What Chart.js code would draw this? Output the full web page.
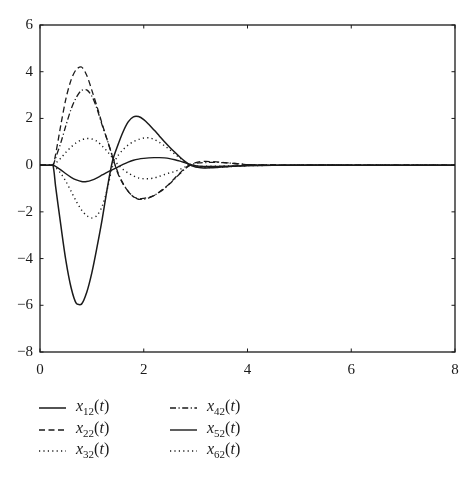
<!DOCTYPE html>
<html>
<head>
<meta charset="utf-8">
<script src="https://cdn.jsdelivr.net/npm/chart.js@4/dist/chart.umd.min.js"></script>
<style>
html,body{margin:0;padding:0;background:#fff;}
#wrap{position:relative;width:474px;height:477px;}
#c{position:absolute;left:0;top:0;}
.leg{position:absolute;font-family:"Liberation Serif","DejaVu Serif",serif;font-style:italic;font-size:16px;color:#1a1a1a;line-height:16px;white-space:nowrap;}
.leg sub{font-size:11px;font-style:normal;vertical-align:-4px;line-height:0;}
.leg .p{font-style:normal;}
.leg svg{position:absolute;left:0;top:0;}
</style>
</head>
<body>
<div id="wrap">
<canvas id="c" width="474" height="477"></canvas>
<div id="legend"></div>
</div>
<script>
// time axis (t)
const tVals = [0,0.1,0.2,0.25,0.3,0.4,0.5,0.6,0.7,0.8,0.9,1.0,1.1,1.2,1.3,1.4,1.5,1.6,1.7,1.8,1.9,2.0,2.1,2.2,2.3,2.4,2.5,2.6,2.7,2.8,2.9,3.0,3.1,3.2,3.3,3.4,3.5,3.6,3.7,3.8,3.9,4.0,5,6,7,8];

const x12 = [0,0,0,0,-0.9,-2.55,-4.1,-5.25,-5.92,-5.95,-5.45,-4.6,-3.5,-2.3,-0.95,0.2,0.85,1.42,1.85,2.07,2.08,1.95,1.74,1.5,1.25,1.0,0.77,0.55,0.34,0.15,0.0,-0.08,-0.11,-0.12,-0.11,-0.1,-0.08,-0.07,-0.05,-0.04,-0.03,-0.02,0,0,0,0];
const x22 = [0,0,0,0,0.45,1.7,2.85,3.65,4.1,4.2,3.85,3.2,2.5,1.75,1.05,0.35,-0.35,-0.8,-1.12,-1.35,-1.43,-1.42,-1.38,-1.3,-1.15,-0.98,-0.78,-0.55,-0.33,-0.12,0.03,0.11,0.15,0.16,0.15,0.14,0.12,0.1,0.08,0.06,0.04,0.02,0,0,0,0];
const x32 = [0,0,0,0,-0.1,-0.35,-0.7,-1.12,-1.55,-1.92,-2.16,-2.26,-2.15,-1.75,-1.0,-0.05,0.4,0.66,0.86,1.0,1.1,1.16,1.17,1.1,0.98,0.83,0.66,0.47,0.3,0.12,0.0,-0.06,-0.09,-0.1,-0.1,-0.09,-0.08,-0.07,-0.06,-0.05,-0.03,-0.02,0,0,0,0];
const x42 = [0,0,0,0,0.3,0.95,1.7,2.4,2.9,3.2,3.22,2.95,2.4,1.7,1.05,0.35,-0.3,-0.78,-1.12,-1.35,-1.46,-1.46,-1.4,-1.3,-1.16,-1.0,-0.8,-0.58,-0.36,-0.15,0.0,0.08,0.1,0.11,0.12,0.12,0.11,0.1,0.08,0.06,0.04,0.02,0,0,0,0];
const x52 = [0,0,0,0,-0.05,-0.2,-0.37,-0.52,-0.63,-0.7,-0.7,-0.64,-0.54,-0.42,-0.3,-0.19,-0.08,0.03,0.13,0.21,0.26,0.29,0.31,0.32,0.32,0.31,0.28,0.23,0.17,0.1,0.03,-0.02,-0.05,-0.06,-0.06,-0.06,-0.05,-0.05,-0.04,-0.03,-0.03,-0.02,0,0,0,0];
const x62 = [0,0,0,0,0.08,0.3,0.55,0.78,0.96,1.08,1.14,1.12,1.02,0.82,0.58,0.3,0.03,-0.18,-0.34,-0.46,-0.55,-0.58,-0.58,-0.55,-0.48,-0.4,-0.33,-0.27,-0.18,-0.07,0.0,-0.03,-0.05,-0.05,-0.05,-0.04,-0.04,-0.03,-0.03,-0.02,-0.02,-0.01,0,0,0,0];

const seriesNames = ['x12','x22','x32','x42','x52','x62'];
const seriesSubs = ['12','22','32','42','52','62'];
const seriesData = [x12,x22,x32,x42,x52,x62];
const xTicks = [0,2,4,6,8];
const yTicks = [-8,-6,-4,-2,0,2,4,6];

const INK = '#1a1a1a';
const dashes = [[], [6,3.5], [1.2,3.2], [6,2.5,1.2,2.5], [], [1.2,3.2]];
const widths = [1.5,1.3,1.4,1.3,1.4,1.4];

const datasets = seriesData.map((arr,i)=>({
  label: seriesNames[i],
  data: arr.map((v,k)=>({x:tVals[k], y:v})),
  borderColor: INK,
  borderWidth: widths[i],
  borderDash: dashes[i],
  pointRadius: 0,
  fill: false,
  tension: 0.3
}));

const frame = {
  id:'frame',
  afterDraw(chart){
    const {ctx, chartArea:a, scales} = chart;
    ctx.save();
    ctx.strokeStyle = INK;
    ctx.lineWidth = 1.3;
    ctx.strokeRect(a.left, a.top, a.right-a.left, a.bottom-a.top);
    ctx.lineWidth = 1;
    const L = 3.5;
    xTicks.forEach(v=>{
      const px = scales.x.getPixelForValue(v);
      ctx.beginPath();
      ctx.moveTo(px, a.bottom); ctx.lineTo(px, a.bottom-L);
      ctx.moveTo(px, a.top); ctx.lineTo(px, a.top+L);
      ctx.stroke();
    });
    yTicks.forEach(v=>{
      const py = scales.y.getPixelForValue(v);
      ctx.beginPath();
      ctx.moveTo(a.left, py); ctx.lineTo(a.left+L, py);
      ctx.moveTo(a.right, py); ctx.lineTo(a.right-L, py);
      ctx.stroke();
    });
    ctx.restore();
  }
};

const tickFont = {family:'"Liberation Serif","DejaVu Serif",serif', size:15};
const chart = new Chart(document.getElementById('c'), {
  type:'line',
  data:{datasets},
  options:{
    responsive:false,
    animation:false,
    layout:{padding:{left:0,right:19,top:25,bottom:95}},
    plugins:{legend:{display:false}, tooltip:{enabled:false}},
    scales:{
      x:{
        type:'linear', min:0, max:8,
        afterBuildTicks(s){ s.ticks = xTicks.map(v=>({value:v})); },
        afterFit(s){ s.height = 30; },
        grid:{display:false, drawTicks:false},
        border:{display:false},
        ticks:{color:INK, font:tickFont, padding:9, maxRotation:0,
               callback:v=>String(v).replace('-','\u2212')}
      },
      y:{
        type:'linear', min:-8, max:6,
        afterBuildTicks(s){ s.ticks = yTicks.map(v=>({value:v})); },
        afterFit(s){ s.width = 40; },
        grid:{display:false, drawTicks:false},
        border:{display:false},
        ticks:{color:INK, font:tickFont, padding:7,
               callback:v=>String(v).replace('-','\u2212')}
      }
    }
  },
  plugins:[frame]
});

// HTML legend (column-major, 2 columns x 3 rows)
const legendEl = document.getElementById('legend');
const colX = [39, 170];
const rowY = [408, 430, 451];
seriesNames.forEach((name,i)=>{
  const col = Math.floor(i/3), row = i%3;
  const div = document.createElement('div');
  div.className = 'leg';
  div.style.left = colX[col]+'px';
  div.style.top = (rowY[row]-8)+'px';
  div.style.width = '130px';
  div.style.height = '16px';
  const svgNS = 'http://www.w3.org/2000/svg';
  const svg = document.createElementNS(svgNS,'svg');
  svg.setAttribute('width','28'); svg.setAttribute('height','16');
  const ln = document.createElementNS(svgNS,'line');
  ln.setAttribute('x1','0'); ln.setAttribute('x2','27');
  ln.setAttribute('y1','8'); ln.setAttribute('y2','8');
  ln.setAttribute('stroke',INK); ln.setAttribute('stroke-width',widths[i]);
  if (dashes[i].length) ln.setAttribute('stroke-dasharray', dashes[i].join(' '));
  svg.appendChild(ln);
  div.appendChild(svg);
  const txt = document.createElement('span');
  txt.style.position='absolute'; txt.style.left='37px'; txt.style.top='-2px';
  txt.innerHTML = 'x<sub>'+seriesSubs[i]+'</sub><span class="p">(</span>t<span class="p">)</span>';
  div.appendChild(txt);
  legendEl.appendChild(div);
});
</script>
</body>
</html>
